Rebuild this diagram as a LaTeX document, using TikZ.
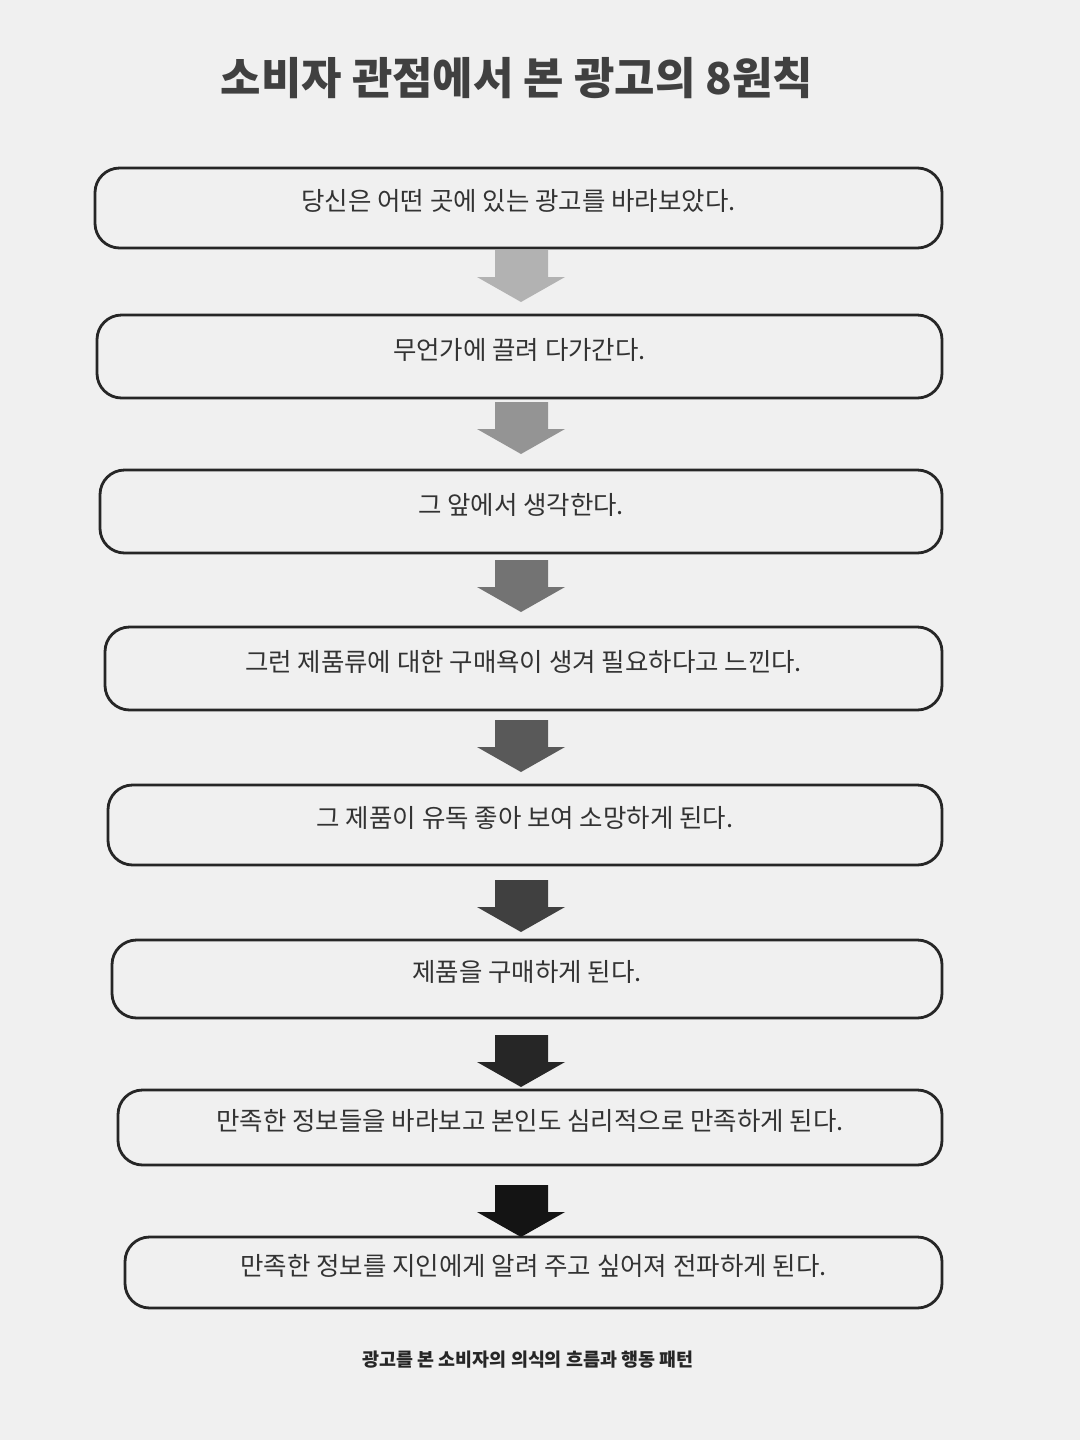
\documentclass[tikz,border=0pt]{standalone}
\usepackage{fontspec}
\setmainfont{Noto Sans CJK KR}
\newfontfamily\medkr{Noto Sans CJK KR Medium}
\begin{document}
\begin{tikzpicture}[x=0.02cm,y=-0.02cm,
  ttl/.style={font=\fontsize{25}{30}\selectfont\bfseries,text=black!75}]
\useasboundingbox[fill=black!6] (0,0) rectangle (1080,1440);
\node[ttl] (title) at (517,78) {소비자 관점에서 본 광고의 8원칙};
\foreach \n/\xa/\ya/\yb/\t in {
 1/95/168/248/{당신은 어떤 곳에 있는 광고를 바라보았다.},
 2/97/315/398/{무언가에 끌려 다가간다.},
 3/100/470/553/{그 앞에서 생각한다.},
 4/105/627/710/{그런 제품류에 대한 구매욕이 생겨 필요하다고 느낀다.},
 5/108/785/865/{그 제품이 유독 좋아 보여 소망하게 된다.},
 6/112/940/1018/{제품을 구매하게 된다.},
 7/118/1090/1165/{만족한 정보들을 바라보고 본인도 심리적으로 만족하게 된다.},
 8/125/1237/1308/{만족한 정보를 지인에게 알려 주고 싶어져 전파하게 된다.}}{
  \draw[draw=black!85,line width=1.6pt,rounded corners=14pt] (\xa,\ya) rectangle (942,\yb);
  \node[font=\fontsize{14.5}{17}\selectfont,text=black!80] (b\n) at ({(\xa+942)/2},{(\ya+\yb)/2-7}) {\t};
}
\foreach \ya/\c in {250/30,402/42,560/55,720/65,880/75,1035/85,1185/92}{
  \fill[black!\c] (495,\ya) -- (548,\ya) -- (548,\ya+27) -- (565,\ya+27) -- (521,\ya+52) -- (477,\ya+27) -- (495,\ya+27) -- cycle;
}
\node[font=\fontsize{10.5}{12}\selectfont\bfseries,text=black!85] (cap) at (528,1360) {광고를 본 소비자의 의식의 흐름과 행동 패턴};
\end{tikzpicture}
\end{document}
